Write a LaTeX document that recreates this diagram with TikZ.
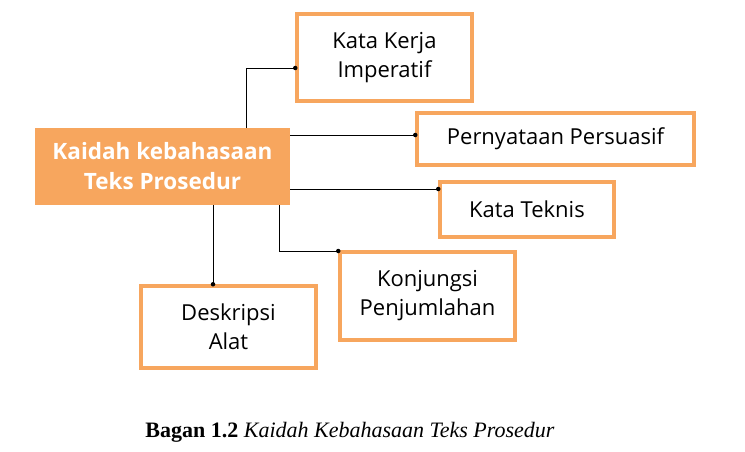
\documentclass[tikz,border=0pt]{standalone}
\usepackage{fontspec}
\setmainfont{Liberation Serif}
\newfontfamily\boxfont{Open Sans}
\definecolor{org}{HTML}{F7A65E}
\begin{document}
\begin{tikzpicture}[x=1pt,y=-1pt,
  sub/.style={draw=org,line width=3.5pt,fill=white,align=center,font=\boxfont\fontsize{22}{29}\selectfont,inner sep=0pt},
  mainbox/.style={fill=org,align=center,text=white,font=\boxfont\bfseries\fontsize{22.5}{30}\selectfont,inner sep=0pt},
  con/.style={line width=0.8pt,black},
  dot/.style={circle,fill=black,inner sep=0pt,minimum size=4.5pt}]
\useasboundingbox (0,0) rectangle (745,452);
\node[mainbox,minimum width=255,minimum height=77] (m) at (162.5,166.5) {Kaidah kebahasaan\\Teks Prosedur};
\node[sub,minimum width=175,minimum height=87] (a) at (384.5,57.5) {Kata Kerja\\Imperatif};
\node[sub,minimum width=277,minimum height=52] (b) at (555.5,139) {Pernyataan Persuasif};
\node[sub,minimum width=174,minimum height=55] (c) at (527,209.5) {Kata Teknis};
\node[sub,minimum width=175,minimum height=88] (d) at (427.5,296) {Konjungsi\\Penjumlahan};
\node[sub,minimum width=175,minimum height=82] (e) at (228.5,327) {Deskripsi\\Alat};
\coordinate (pa) at (a.west |- 0,68);
\coordinate (pb) at (b.west |- 0,135);
\coordinate (pc) at (c.west |- 0,189);
\coordinate (pd) at (d.west |- 0,251);
\coordinate (pe) at (213,0 |- e.north);
\draw[con] (246,0 |- m.north) |- (pa);
\draw[con] (m.east |- pb) -- (pb);
\draw[con] (m.east |- pc) -- (pc);
\draw[con] (279,0 |- m.south) |- (pd);
\draw[con] (213,0 |- m.south) -- (pe);
\foreach \p in {pa,pb,pc,pd,pe} \node[dot] at (\p) {};
\node[font=\fontsize{22}{26}\selectfont] (cap) at (350,432) {\textbf{Bagan 1.2} \textit{Kaidah Kebahasaan Teks Prosedur}};
\end{tikzpicture}
\end{document}
